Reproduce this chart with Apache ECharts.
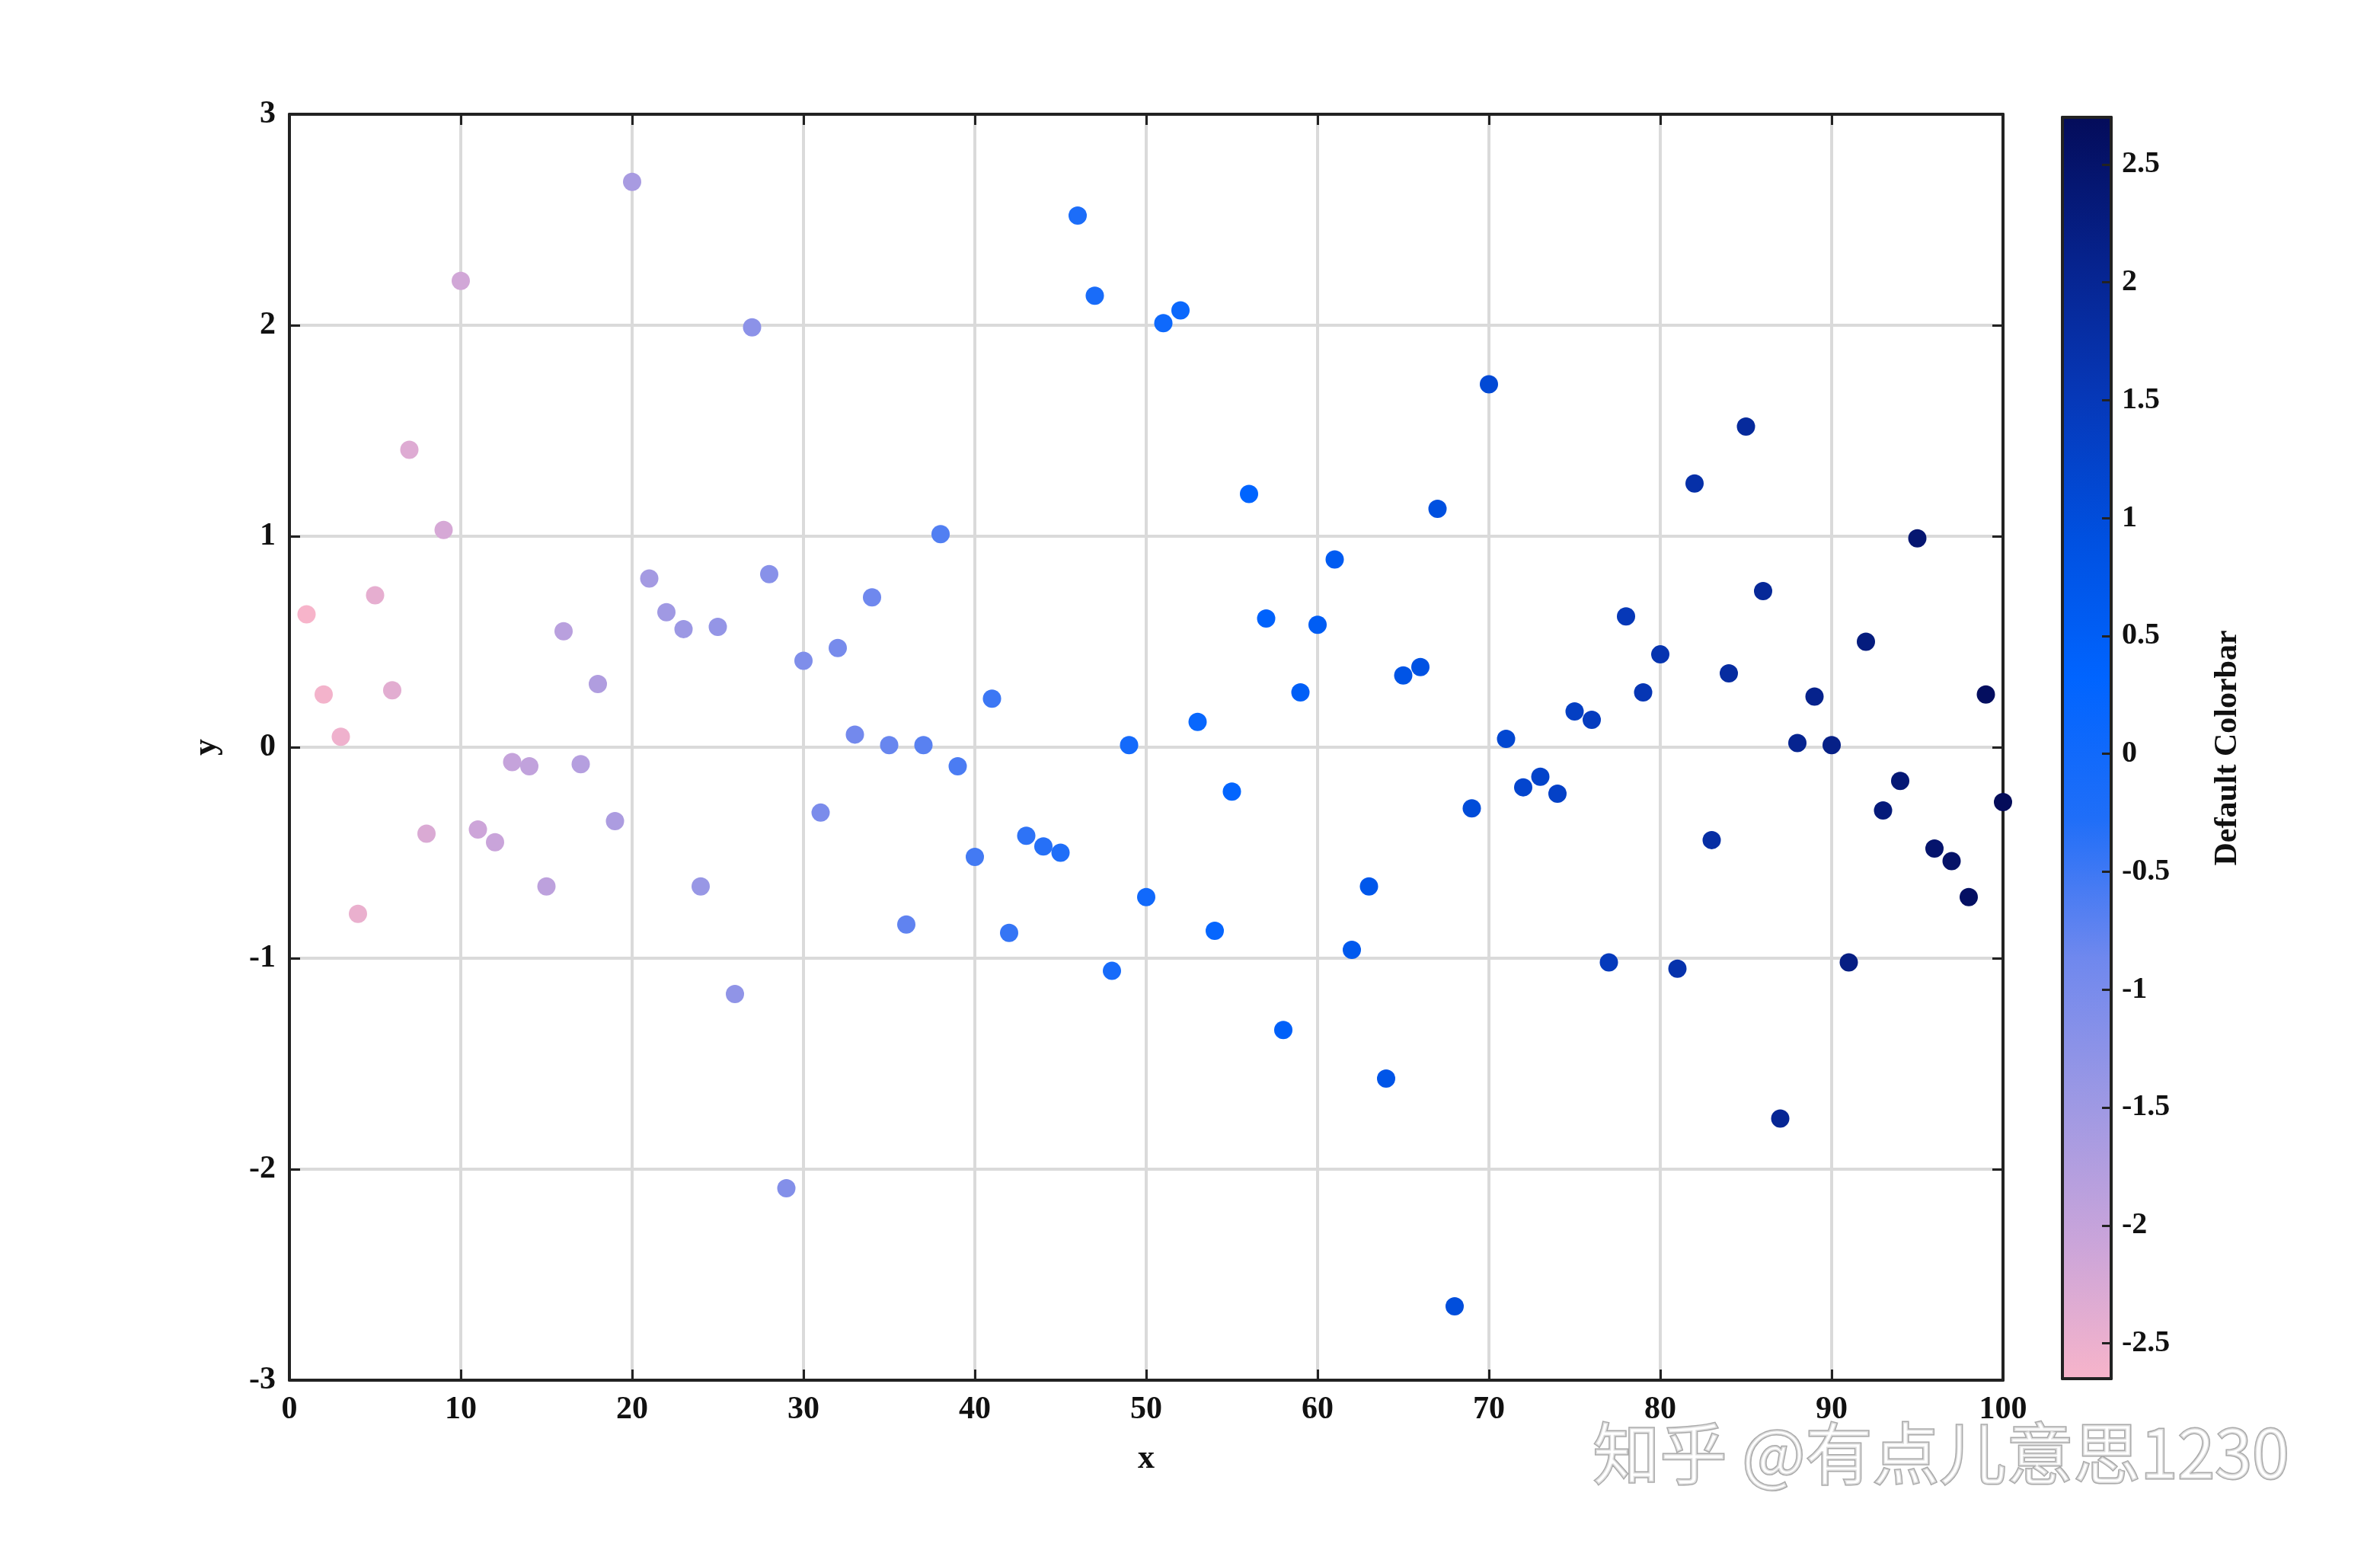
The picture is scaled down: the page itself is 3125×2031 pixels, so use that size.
<!DOCTYPE html>
<html><head><meta charset="utf-8">
<script src="https://cdn.jsdelivr.net/npm/echarts@6/dist/echarts.min.js"></script>
<style>html,body{margin:0;background:#fff}#c{width:3125px;height:2031px}</style>
</head><body><div id="c"></div>
<script>
const xs = Array.from({length:100},(_, i)=>i+1);
const ys = [0.63,0.25,0.05,-0.79,0.72,0.27,1.41,-0.41,1.03,2.21,
-0.39,-0.45,-0.07,-0.09,-0.66,0.55,-0.08,0.30,-0.35,2.68,
0.80,0.64,0.56,-0.66,0.57,-1.17,1.99,0.82,-2.09,0.41,
-0.31,0.47,0.06,0.71,0.01,-0.84,0.01,1.01,-0.09,-0.52,
0.23,-0.88,-0.42,-0.47,-0.50,2.52,2.14,-1.06,0.01,-0.71,
2.01,2.07,0.12,-0.87,-0.21,1.20,0.61,-1.34,0.26,0.58,
0.89,-0.96,-0.66,-1.57,0.34,0.38,1.13,-2.65,-0.29,1.72,
0.04,-0.19,-0.14,-0.22,0.17,0.13,-1.02,0.62,0.26,0.44,
-1.05,1.25,-0.44,0.35,1.52,0.74,-1.76,0.02,0.24,0.01,
-1.02,0.50,-0.30,-0.16,0.99,-0.48,-0.54,-0.71,0.25,-0.26];
const palette = ['#f7b4ca','#c9a4da','#9c98e4','#6f88ee','#1f6ef8','#0064ff','#0050e0','#0638b8','#06228c','#040c5a'];
const xTicks = [0,10,20,30,40,50,60,70,80,90,100];
const yTicks = [-3,-2,-1,0,1,2,3];
const cbTicks = [-2.5,-2,-1.5,-1,-0.5,0,0.5,1,1.5,2,2.5];
const cbMin = -2.65, cbMax = 2.7;
const font = {fontFamily:'Liberation Serif', fontWeight:'bold', fontSize:42, color:'#111'};
const chart = echarts.init(document.getElementById('c'));
const G = {left:380, top:150, width:2250, height:1662};
const CB = {left:2708, top:154, width:64, height:1656};
const line = {show:true, onZero:false, lineStyle:{color:'#222', width:4}};
const tick = {inside:true, length:14, lineStyle:{color:'#222', width:3}};
chart.setOption({
  animation:false,
  grid:[{...G}, {...CB}],
  visualMap:{show:false, dimension:0, min:1, max:100, seriesIndex:0, inRange:{color:palette}},
  xAxis:[
    {gridIndex:0, type:'value', min:0, max:100, interval:10, name:'x', nameLocation:'middle', nameGap:82,
     nameTextStyle:{...font, fontSize:44}, axisLine:line, axisTick:tick,
     axisLabel:{...font, margin:18}, splitLine:{lineStyle:{color:'#dadada', width:4}}},
    {gridIndex:0, type:'value', min:0, max:100, interval:10, position:'top', axisLine:line,
     axisTick:tick, axisLabel:{show:false}, splitLine:{show:false}},
    {gridIndex:1, type:'value', min:0, max:1, position:'bottom', axisLine:line, axisTick:{show:false}, axisLabel:{show:false}, splitLine:{show:false}},
    {gridIndex:1, type:'value', min:0, max:1, position:'top', axisLine:line, axisTick:{show:false}, axisLabel:{show:false}, splitLine:{show:false}}
  ],
  yAxis:[
    {gridIndex:0, type:'value', min:-3, max:3, interval:1, name:'y', nameLocation:'middle', nameGap:86, nameRotate:90,
     nameTextStyle:{...font, fontSize:44}, axisLine:line, axisTick:tick,
     axisLabel:{...font, margin:18}, splitLine:{lineStyle:{color:'#dadada', width:4}}},
    {gridIndex:0, type:'value', min:-3, max:3, interval:1, position:'right', axisLine:line,
     axisTick:tick, axisLabel:{show:false}, splitLine:{show:false}},
    {gridIndex:1, type:'value', min:cbMin, max:cbMax, position:'right', axisLine:line,
     name:'Default Colorbar', nameLocation:'middle', nameRotate:90, nameGap:132, nameTextStyle:{...font, fontSize:42},
     axisTick:{inside:true, length:12, customValues:cbTicks, lineStyle:{color:'#222', width:3}},
     axisLabel:{...font, fontSize:40, margin:14, customValues:cbTicks}, splitLine:{show:false}},
    {gridIndex:1, type:'value', min:cbMin, max:cbMax, position:'left', axisLine:line, axisTick:{show:false}, axisLabel:{show:false}, splitLine:{show:false}}
  ],
  graphic:[
    {type:'rect', z:-1, shape:{x:CB.left, y:CB.top, width:CB.width, height:CB.height},
     style:{fill:new echarts.graphic.LinearGradient(0,1,0,0, palette.map((c,i)=>({offset:i/(palette.length-1), color:c})))}},
    {type:'text', left:2090, top:1862, style:{text:'知乎 @有点儿意思1230', font:'88px "Noto Sans CJK SC"', fill:'rgba(255,255,255,0.6)', stroke:'#aaa', lineWidth:3}}
  ],
  series:[{type:'scatter', xAxisIndex:0, yAxisIndex:0, symbolSize:24, itemStyle:{opacity:1}, data:xs.map((x,i)=>[x, ys[i]])}]
});
</script></body></html>
